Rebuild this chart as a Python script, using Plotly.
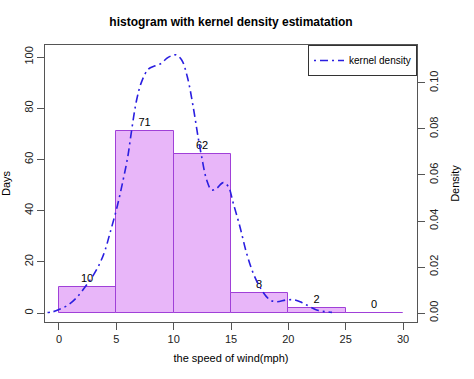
import plotly.graph_objects as go

# Histogram data
bin_edges = [0, 5, 10, 15, 20, 25, 30]
counts = [10, 71, 62, 8, 2, 0]

# Kernel density estimate
kde_x = [-1.0, -0.5, 0.0, 0.8, 1.5, 2.27, 3.0, 3.57, 4.0, 4.45, 5.06, 5.6, 6.0, 6.34, 6.77,
         7.21, 7.79, 8.4, 8.95, 9.39, 9.8, 10.2, 10.7, 11.19, 11.7, 12.15, 12.44, 12.88,
         13.31, 13.75, 14.32, 14.76, 15.2, 15.78, 16.36, 16.94, 17.67, 18.4, 18.98,
         19.85, 20.58, 21.2, 21.6, 22.47, 23.2, 23.8]
kde_y = [0.0002, 0.0006, 0.0015, 0.0035, 0.0065, 0.0113, 0.0165, 0.0217, 0.027, 0.0348,
         0.046, 0.058, 0.068, 0.0796, 0.0926, 0.1006, 0.106, 0.1075, 0.1086, 0.1107,
         0.1118, 0.1122, 0.110, 0.1027, 0.0897, 0.0759, 0.068, 0.0578, 0.0535, 0.0542,
         0.0567, 0.055, 0.0477, 0.0375, 0.026, 0.0173, 0.010, 0.0057, 0.0049, 0.0057,
         0.0057, 0.0045, 0.0035, 0.0013, 0.0006, 0.0003]

centers = [(a + b) / 2 for a, b in zip(bin_edges[:-1], bin_edges[1:])]
widths = [b - a for a, b in zip(bin_edges[:-1], bin_edges[1:])]

FONT = "Liberation Sans, Arial, sans-serif"
AXC = "#555555"
W, H = 474, 379

fig = go.Figure()
fig.add_trace(go.Bar(
    x=centers, y=counts, width=widths,
    marker=dict(color="#E8B6F9", line=dict(color="#A040D8", width=1)),
    text=[str(c) for c in counts], textposition="outside",
    textfont=dict(color="black", size=11, family=FONT),
    cliponaxis=False, showlegend=False, hoverinfo="skip",
))
fig.add_trace(go.Scatter(
    x=kde_x, y=kde_y, yaxis="y2", mode="lines",
    line=dict(color="#2a1ee0", width=1.6, dash="2px,4px,8px,4px", shape="spline"),
    name="kernel density",
))

fig.update_layout(
    width=W, height=H,
    margin=dict(l=45, r=57, t=45, b=57, autoexpand=False),
    paper_bgcolor="white", plot_bgcolor="white",
    font=dict(family=FONT, size=11, color="#222222"),
    bargap=0,
    title=dict(text="<b>histogram with kernel density estimatation</b>",
               x=0.5, xref="paper", xanchor="center", y=1 - 22 / H, yanchor="middle",
               yref="container", font=dict(size=12, color="black")),
    xaxis=dict(range=[-1.22, 31.22], tickvals=[0, 5, 10, 15, 20, 25, 30],
               automargin=False,
               showgrid=False, zeroline=False, showline=True, linecolor=AXC,
               mirror=True, ticks="outside", ticklen=7, tickcolor=AXC,
               title=dict(text="the speed of wind(mph)", standoff=10,
                          font=dict(size=11, color="black"))),
    yaxis=dict(range=[-3.5, 104.7], tickvals=[0, 20, 40, 60, 80, 100],
               automargin=False,
               tickangle=-90, showgrid=False, zeroline=False, showline=True,
               linecolor=AXC, mirror=True, ticks="outside", ticklen=7,
               tickcolor=AXC,
               title=dict(text="Days", standoff=14,
                          font=dict(size=11, color="black"))),
    yaxis2=dict(range=[-0.0039, 0.1165], overlaying="y", side="right",
                automargin=False,
                tickvals=[0, 0.02, 0.04, 0.06, 0.08, 0.10], tickformat=".2f",
                tickangle=-90, showgrid=False, zeroline=False, showline=False,
                ticks="outside", ticklen=7, tickcolor=AXC,
                title=dict(text="Density", standoff=12,
                           font=dict(size=11, color="black"))),
    legend=dict(x=1, y=1, xanchor="right", yanchor="top", itemwidth=30,
                bordercolor="#333333", borderwidth=1, bgcolor="white",
                font=dict(size=10, color="black")),
)

fig.write_html("out.html", config={"displayModeBar": False},
               post_script="document.body.style.margin='0';")
